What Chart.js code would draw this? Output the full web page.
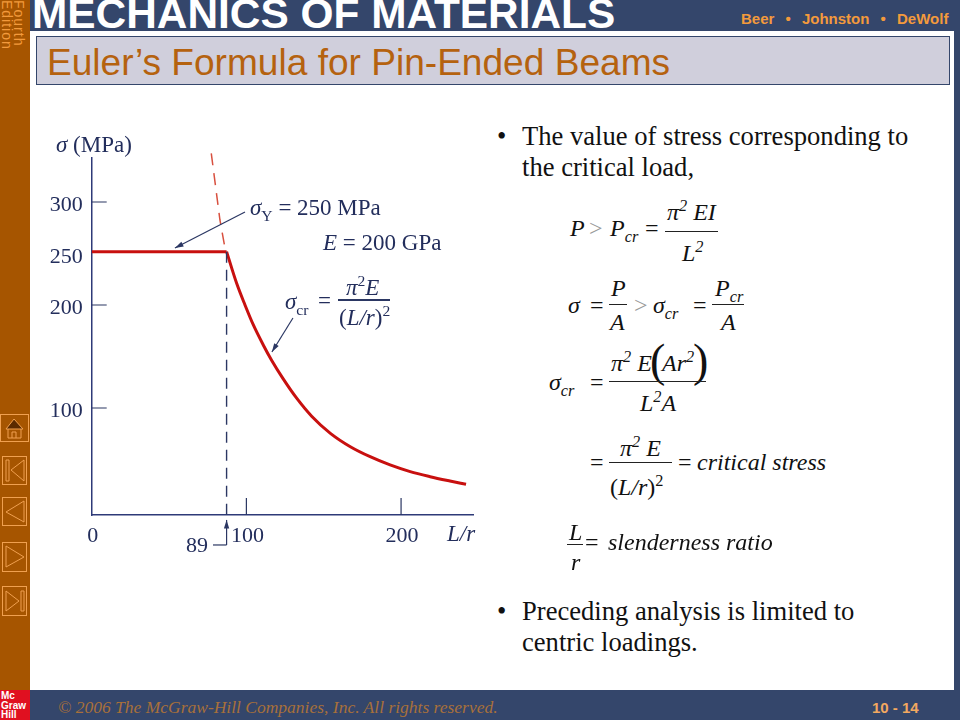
<!DOCTYPE html>
<html>
<head>
<meta charset="utf-8">
<title>Euler's Formula for Pin-Ended Beams</title>
<script src="https://cdn.jsdelivr.net/npm/chart.js@4"></script>
<style>
  html, body { margin: 0; padding: 0; background: #fff; }
  #slide { position: relative; width: 960px; height: 720px; overflow: hidden; background: #fff; }
  .box { position: absolute; }
  .t { position: absolute; white-space: nowrap; line-height: 1; font-family: "Liberation Serif", serif; font-size: 24px; color: #111; }
  .i { font-style: italic; }
  .sans { font-family: "Liberation Sans", sans-serif; }
  .body { font-size: 26.6px; }
  .rule { position: absolute; height: 1px; background: #222; }
  .n { color: #232e5c; font-size: 23px; }
  .nr { position: absolute; height: 1.5px; background: #2b3763; }
  sub, sup { font-size: 68%; line-height: 0; }
  #chartBox { position: absolute; left: 30px; top: 120px; width: 450px; height: 450px; }
</style>
</head>
<body>
<div id="slide">
  <div class="box" style="left:0;top:0;width:960px;height:31px;background:#34466b"></div>
  <div class="box" style="left:954px;top:0;width:6px;height:720px;background:#34466b"></div>
  <div class="box" style="left:0;top:690px;width:960px;height:30px;background:#34466b"></div>
  <div class="box" style="left:0;top:0;width:30px;height:690px;background:#a65500"></div>
  <div class="box" style="left:0;top:690px;width:30px;height:30px;background:#e01020"></div>
  <div class="t sans" style="left:1px;top:691px;font-size:10px;font-weight:bold;color:#fff;line-height:9.5px;white-space:pre">Mc
Graw
Hill</div>

  <div class="t sans" style="left:32px;top:-7px;font-size:42.4px;font-weight:bold;color:#fff">MECHANICS OF MATERIALS</div>
  <div class="t sans" style="left:741px;top:11px;font-size:15px;font-weight:bold;color:#f39a3c;word-spacing:7px">Beer &#8226; Johnston &#8226; DeWolf</div>
  <div class="t sans" style="left:1px;top:0;font-size:14px;color:#f39a3c;writing-mode:vertical-rl;line-height:12px;white-space:pre;letter-spacing:1px">Fourth
Edition</div>

  <div class="box" style="left:36px;top:36px;width:912px;height:47px;background:#d0cfdc;border:1px solid #34466b"></div>
  <div class="t sans" style="left:47px;top:44px;font-size:37.1px;color:#b5620f">Euler&#8217;s Formula for Pin-Ended Beams</div>

  <svg class="box" style="left:0;top:410px" width="30" height="210" fill="none" stroke="#f0a050" stroke-width="1">
    <rect x="0.5" y="4.5" width="28" height="27"/>
    <path d="M6 19 L14 9 L23 19 Z" fill="#5a2a00"/>
    <path d="M8 19 V28 H21 V19 M12 28 V22 H16 V28"/>
    <rect x="2.5" y="46.5" width="24" height="28"/>
    <path d="M6 50 V71 H9 V50 Z M24 50 L11 60 L24 71 Z"/>
    <rect x="2.5" y="87.5" width="24" height="28"/>
    <path d="M24 91 L6 102 L24 112 Z"/>
    <rect x="2.5" y="132.5" width="24" height="29"/>
    <path d="M6 136 L24 147 L6 157 Z"/>
    <rect x="2.5" y="176.5" width="24" height="29"/>
    <path d="M6 181 L19 191 L6 201 Z M21 181 V201 H24 V181 Z"/>
  </svg>

  <div id="chartBox"><canvas id="bucklingChart" width="450" height="450"></canvas></div>

  <!-- chart text -->
  <div class="t n" style="left:56px;top:133px"><span class="i">&#963;</span> (MPa)</div>
  <div class="t n" style="left:250px;top:196px"><span class="i">&#963;</span><sub>Y</sub> = 250 MPa</div>
  <div class="t n" style="left:323px;top:231px"><span class="i">E</span> = 200 GPa</div>
  <div class="t n" style="left:285px;top:290px"><span class="i">&#963;</span><sub>cr</sub></div>
  <div class="t n" style="left:318px;top:289px">=</div>
  <div class="t n" style="left:346px;top:276px"><span class="i">&#960;</span><sup>2</sup><span class="i">E</span></div>
  <div class="nr" style="left:338px;top:299px;width:52px"></div>
  <div class="t n" style="left:339px;top:306px">(<span class="i">L/r</span>)<sup>2</sup></div>
  <div class="t n i" style="left:447px;top:522px">L/r</div>
  <div class="t n" style="left:186px;top:534px;font-size:22px">89</div>

  <!-- right column -->
  <div class="t body" style="left:497px;top:123px">&#8226;</div>
  <div class="t body" style="left:522px;top:123px">The value of stress corresponding to</div>
  <div class="t body" style="left:522px;top:154px">the critical load,</div>

  <div class="t i" style="left:570px;top:216px">P</div>
  <div class="t" style="left:589px;top:216px;color:#999">&gt;</div>
  <div class="t i" style="left:610px;top:216px">P<sub>cr</sub></div>
  <div class="t" style="left:645px;top:216px">=</div>
  <div class="t i" style="left:667px;top:200px">&#960;<sup>2</sup> EI</div>
  <div class="rule" style="left:665px;top:231px;width:53px"></div>
  <div class="t i" style="left:682px;top:241px">L<sup>2</sup></div>

  <div class="t i" style="left:568px;top:293px">&#963;</div>
  <div class="t" style="left:590px;top:293px">=</div>
  <div class="t i" style="left:611px;top:276px">P</div>
  <div class="rule" style="left:609px;top:304px;width:18px"></div>
  <div class="t i" style="left:610px;top:310px">A</div>
  <div class="t" style="left:634px;top:293px;color:#999">&gt;</div>
  <div class="t i" style="left:653px;top:293px">&#963;<sub>cr</sub></div>
  <div class="t" style="left:693px;top:293px">=</div>
  <div class="t i" style="left:715px;top:276px">P<sub>cr</sub></div>
  <div class="rule" style="left:712px;top:304px;width:32px"></div>
  <div class="t i" style="left:721px;top:310px">A</div>

  <div class="t i" style="left:549px;top:370px">&#963;<sub>cr</sub></div>
  <div class="t" style="left:590px;top:370px">=</div>
  <div class="t i" style="left:611px;top:351px">&#960;<sup>2</sup> E</div>
  <div class="t" style="left:650px;top:338px;font-size:46px;font-weight:100">(</div>
  <div class="t i" style="left:662px;top:351px">Ar<sup>2</sup></div>
  <div class="t" style="left:693px;top:338px;font-size:46px;font-weight:100">)</div>
  <div class="rule" style="left:609px;top:381px;width:97px"></div>
  <div class="t i" style="left:640px;top:391px">L<sup>2</sup>A</div>

  <div class="t" style="left:590px;top:450px">=</div>
  <div class="t i" style="left:620px;top:436px">&#960;<sup>2</sup> E</div>
  <div class="rule" style="left:609px;top:462px;width:63px"></div>
  <div class="t" style="left:610px;top:475px">(<span class="i">L/r</span>)<sup>2</sup></div>
  <div class="t" style="left:678px;top:450px">=</div>
  <div class="t i" style="left:697px;top:450px">critical stress</div>

  <div class="t i" style="left:569px;top:520px">L</div>
  <div class="rule" style="left:567px;top:544px;width:16px"></div>
  <div class="t i" style="left:571px;top:550px">r</div>
  <div class="t" style="left:585px;top:530px">=</div>
  <div class="t i" style="left:608px;top:530px">slenderness ratio</div>

  <div class="t body" style="left:497px;top:598px">&#8226;</div>
  <div class="t body" style="left:522px;top:598px">Preceding analysis is limited to</div>
  <div class="t body" style="left:522px;top:629px">centric loadings.</div>

  <!-- footer -->
  <div class="t i" style="left:58px;top:699px;font-size:17.5px;color:#a8703a">&#169; 2006 The McGraw-Hill Companies, Inc. All rights reserved.</div>
  <div class="t sans" style="left:872px;top:700px;font-size:15px;font-weight:bold;color:#f2a860">10 - 14</div>
</div>

<script>
// values
const yieldSlenderness = [0, 87.2];
const yieldStress = [251.8, 251.8];

const curveSlenderness = [87.2, 93.7, 99.1, 104.5, 110.9, 116.2, 123.7, 132.5, 142.2, 154.3, 167.2, 180, 192.9, 205.9, 218.8, 231.6, 242];
const curveStress = [251.8, 221, 200, 180.6, 161.2, 146.6, 128.5, 109.5, 92, 75.4, 62.4, 52.7, 44.7, 38.2, 33.3, 29.1, 25.9];

const eulerSlenderness = [77.3, 80.1, 82.9, 86];
const eulerStress = [347.2, 314.9, 282.5, 256.6];

const limitSlenderness = [87.2, 87.2];
const limitStress = [251.8, -3.9];

const xTicks = [0, 100, 200];
const yTicks = [100, 200, 250, 300];
const xMarks = [100, 200];
const yMarks = [100, 200, 300];

const NAVY = '#2b3763';
const AXIS = '#2e3a78';
const RED = '#c8100f';

function toPoints(xs, ys) {
  return xs.map((x, i) => ({ x: x, y: ys[i] }));
}

function arrowHead(ctx, x1, y1, x2, y2, size) {
  const a = Math.atan2(y2 - y1, x2 - x1);
  ctx.beginPath();
  ctx.moveTo(x2, y2);
  ctx.lineTo(x2 - size * Math.cos(a - 0.3), y2 - size * Math.sin(a - 0.3));
  ctx.lineTo(x2 - size * Math.cos(a + 0.3), y2 - size * Math.sin(a + 0.3));
  ctx.closePath();
  ctx.fill();
}

// tick marks point into the plot, and the callout arrows
const bookMarks = {
  id: 'bookMarks',
  afterDraw(chart) {
    const { ctx, scales: { x, y } } = chart;
    ctx.save();
    ctx.strokeStyle = NAVY;
    ctx.fillStyle = NAVY;
    ctx.lineWidth = 1.2;
    ctx.beginPath();
    yMarks.forEach(v => {
      ctx.moveTo(x.left, y.getPixelForValue(v));
      ctx.lineTo(x.left + 15, y.getPixelForValue(v));
    });
    xMarks.forEach(v => {
      ctx.moveTo(x.getPixelForValue(v), y.bottom);
      ctx.lineTo(x.getPixelForValue(v), y.bottom - 17);
    });
    ctx.stroke();

    const arrows = [
      [99.1, 290.3, 53.8, 255.3],
      [130.1, 187.4, 116.5, 154.4],
      [87.2, -33, 87.2, -8.7]
    ];
    arrows.forEach(a => {
      const x1 = x.getPixelForValue(a[0]), y1 = y.getPixelForValue(a[1]);
      const x2 = x.getPixelForValue(a[2]), y2 = y.getPixelForValue(a[3]);
      ctx.beginPath();
      ctx.moveTo(x1, y1);
      ctx.lineTo(x2, y2);
      ctx.stroke();
      arrowHead(ctx, x1, y1, x2, y2, 9);
    });

    ctx.beginPath();
    ctx.moveTo(x.getPixelForValue(87.2), y.getPixelForValue(-33));
    ctx.lineTo(x.getPixelForValue(78.4), y.getPixelForValue(-33));
    ctx.stroke();
    ctx.restore();
  }
};

new Chart(document.getElementById('bucklingChart'), {
  type: 'scatter',
  data: {
    datasets: [
      {
        label: 'limit',
        data: toPoints(limitSlenderness, limitStress),
        showLine: true, pointRadius: 0, borderColor: NAVY, borderWidth: 1.4, borderDash: [11, 7]
      },
      {
        label: 'euler',
        data: toPoints(eulerSlenderness, eulerStress),
        showLine: true, pointRadius: 0, borderColor: '#d8503f', borderWidth: 1.5, borderDash: [12, 8], clip: false
      },
      {
        label: 'yield',
        data: toPoints(yieldSlenderness, yieldStress),
        showLine: true, pointRadius: 0, borderColor: RED, borderWidth: 3
      },
      {
        label: 'critical',
        data: toPoints(curveSlenderness, curveStress),
        showLine: true, pointRadius: 0, borderColor: RED, borderWidth: 3, cubicInterpolationMode: 'monotone'
      }
    ]
  },
  options: {
    responsive: false,
    animation: false,
    events: [],
    layout: { padding: { top: 38, right: 7, left: 0, bottom: 0 } },
    plugins: { legend: { display: false }, title: { display: false }, tooltip: { enabled: false } },
    scales: {
      x: {
        type: 'linear',
        min: 0,
        max: 246.5,
        afterBuildTicks(scale) { scale.ticks = xTicks.map(v => ({ value: v })); },
        afterFit(scale) { scale.height = 55; },
        grid: { display: false, drawTicks: false },
        border: { color: AXIS, width: 1.5 },
        ticks: {
          color: '#232e5c', padding: 8, maxRotation: 0, autoSkip: false, labelOffset: 1,
          font: { family: 'Liberation Serif', size: 22 },
          callback: v => String(v)
        }
      },
      y: {
        type: 'linear',
        min: -3.9,
        max: 342.7,
        afterBuildTicks(scale) { scale.ticks = yTicks.map(v => ({ value: v })); },
        afterFit(scale) { scale.width = 61.7; },
        grid: { display: false, drawTicks: false },
        border: { color: AXIS, width: 1.5 },
        ticks: {
          color: '#232e5c', padding: 9, autoSkip: false, labelOffset: 3.5,
          font: { family: 'Liberation Serif', size: 22 },
          callback: v => String(v)
        }
      }
    }
  },
  plugins: [bookMarks]
});
</script>
</body>
</html>
